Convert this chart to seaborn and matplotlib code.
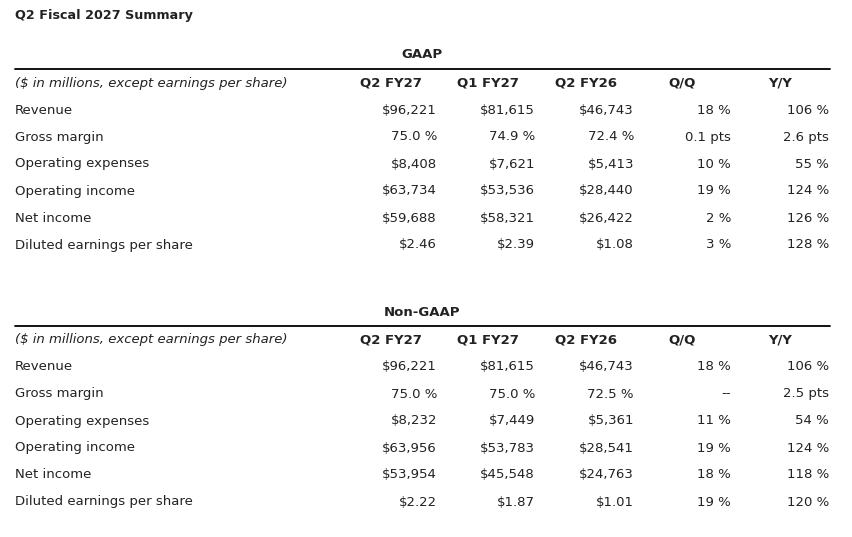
import pandas as pd
import seaborn as sns
import matplotlib.pyplot as plt

TITLE = "Q2 Fiscal 2027 Summary"
UNIT_NOTE = "($ in millions, except earnings per share)"
periods = ["Q2 FY27", "Q1 FY27", "Q2 FY26", "Q/Q", "Y/Y"]
metrics = ["Revenue", "Gross margin", "Operating expenses",
           "Operating income", "Net income", "Diluted earnings per share"]

gaap_q2_fy27 = ["$96,221", "75.0 %", "$8,408", "$63,734", "$59,688", "$2.46"]
gaap_q1_fy27 = ["$81,615", "74.9 %", "$7,621", "$53,536", "$58,321", "$2.39"]
gaap_q2_fy26 = ["$46,743", "72.4 %", "$5,413", "$28,440", "$26,422", "$1.08"]
gaap_qq = ["18 %", "0.1 pts", "10 %", "19 %", "2 %", "3 %"]
gaap_yy = ["106 %", "2.6 pts", "55 %", "124 %", "126 %", "128 %"]

ng_q2_fy27 = ["$96,221", "75.0 %", "$8,232", "$63,956", "$53,954", "$2.22"]
ng_q1_fy27 = ["$81,615", "75.0 %", "$7,449", "$53,783", "$45,548", "$1.87"]
ng_q2_fy26 = ["$46,743", "72.5 %", "$5,361", "$28,541", "$24,763", "$1.01"]
ng_qq = ["18 %", "--", "11 %", "19 %", "18 %", "19 %"]
ng_yy = ["106 %", "2.5 pts", "54 %", "124 %", "118 %", "120 %"]

sections = [
    ("GAAP", pd.DataFrame(dict(zip(periods, [gaap_q2_fy27, gaap_q1_fy27, gaap_q2_fy26, gaap_qq, gaap_yy])), index=metrics)),
    ("Non-GAAP", pd.DataFrame(dict(zip(periods, [ng_q2_fy27, ng_q1_fy27, ng_q2_fy26, ng_qq, ng_yy])), index=metrics)),
]

sns.set_theme(style="white")
plt.rcParams["font.family"] = ["DejaVu Sans"]

INK = "#222222"
FS = 9.5
head_x = [360, 457, 555, 668, 768]
val_x = [437, 535, 634, 731, 829]

fig = plt.figure(figsize=(8.53, 5.37), dpi=100)
ax = fig.add_axes([0, 0, 1, 1])
ax.set_xlim(0, 853)
ax.set_ylim(537, 0)
ax.axis("off")

ax.text(15, 15, TITLE, fontsize=9.2, fontweight="bold", color=INK, va="center", ha="left")

for top, (name, df) in zip([55, 312], sections):
    ax.text(422, top, name, fontsize=FS, fontweight="bold", color=INK, ha="center", va="center")
    ax.plot([15, 830], [top + 14, top + 14], color="black", lw=1.3)
    hy = top + 28
    ax.text(15, hy, UNIT_NOTE, fontsize=FS, style="italic", color=INK, va="center")
    for hx, p in zip(head_x, periods):
        ax.text(hx, hy, p, fontsize=FS, fontweight="bold", color=INK, va="center")
    for i, m in enumerate(df.index):
        ry = hy + 27 * (i + 1)
        ax.text(15, ry, m, fontsize=FS, color=INK, va="center")
        for vx, p in zip(val_x, periods):
            ax.text(vx, ry, df.loc[m, p], fontsize=FS, color=INK, ha="right", va="center")

fig.savefig("out.png", dpi=100, facecolor="white")
